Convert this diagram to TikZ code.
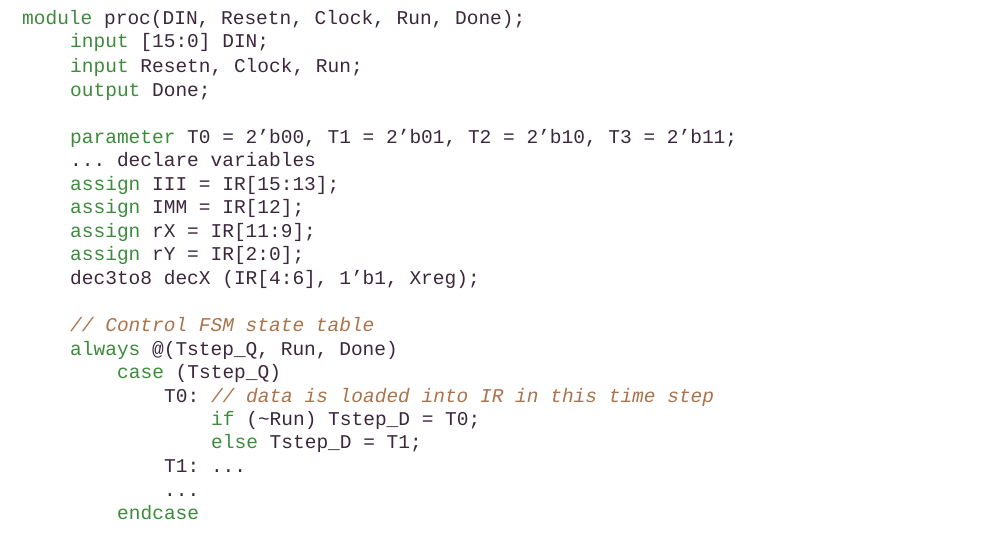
\documentclass[tikz,border=0pt]{standalone}
\usepackage{fontspec}
\setmonofont{Liberation Mono}
\definecolor{kw}{RGB}{60,140,60}
\definecolor{idc}{RGB}{60,40,60}
\definecolor{cm}{RGB}{170,115,75}
\newcommand{\kw}[1]{\textcolor{kw}{#1}}
\newcommand{\cmt}[1]{\textcolor{cm}{\itshape #1}}
\begin{document}
\begin{tikzpicture}[x=1pt,y=1pt,
  ln/.style={anchor=base west,inner sep=0pt,font=\fontsize{19.5}{20}\ttfamily,text=idc}]
\fill[white] (0,0) rectangle (998,-551);
\useasboundingbox (0,0) rectangle (998,-551);
\node[ln] (l1) at (22,-25) {\kw{module} proc(DIN, Resetn, Clock, Run, Done);};
\node[ln] (l2) at (70,-48) {\kw{input} [15:0] DIN;};
\node[ln] (l3) at (70,-72) {\kw{input} Resetn, Clock, Run;};
\node[ln] (l4) at (70,-96) {\kw{output} Done;};
\node[ln] (l5) at (70,-143) {\kw{parameter} T0 = 2’b00, T1 = 2’b01, T2 = 2’b10, T3 = 2’b11;};
\node[ln] (l6) at (70,-166) {... declare variables};
\node[ln] (l7) at (70,-190) {\kw{assign} III = IR[15:13];};
\node[ln] (l8) at (70,-213) {\kw{assign} IMM = IR[12];};
\node[ln] (l9) at (70,-237) {\kw{assign} rX = IR[11:9];};
\node[ln] (l10) at (70,-260) {\kw{assign} rY = IR[2:0];};
\node[ln] (l11) at (70,-284) {dec3to8 decX (IR[4:6], 1’b1, Xreg);};
\node[ln] (l12) at (70,-331) {\cmt{// Control FSM state table}};
\node[ln] (l13) at (70,-355) {\kw{always} @(Tstep\_Q, Run, Done)};
\node[ln] (l14) at (117,-378) {\kw{case} (Tstep\_Q)};
\node[ln] (l15) at (164,-402) {T0: \cmt{// data is loaded into IR in this time step}};
\node[ln] (l16) at (211,-425) {\kw{if} (\textasciitilde Run) Tstep\_D = T0;};
\node[ln] (l17) at (211,-448) {\kw{else} Tstep\_D = T1;};
\node[ln] (l18) at (164,-472) {T1: ...};
\node[ln] (l19) at (164,-496) {...};
\node[ln] (l20) at (117,-519) {\kw{endcase}};
\end{tikzpicture}
\end{document}
